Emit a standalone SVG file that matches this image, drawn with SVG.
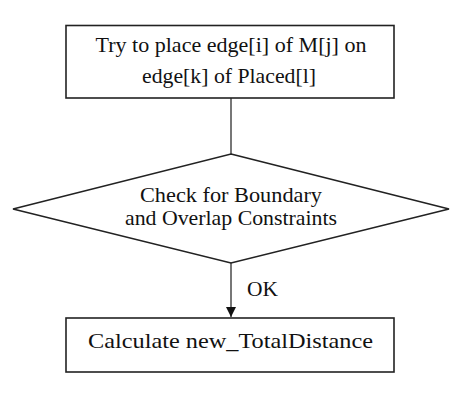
<svg xmlns="http://www.w3.org/2000/svg" width="474" height="405" viewBox="0 0 474 405">
<defs>
<style>
.box{fill:#fff;stroke:#222;stroke-width:1.6}
.conn{fill:none;stroke:#555;stroke-width:1.6}
.t{font-family:"Liberation Serif","Times New Roman",serif;font-size:21px;fill:#111;text-anchor:middle}
</style>
<marker id="arr" viewBox="0 0 10 10" refX="10" refY="5" markerWidth="10" markerHeight="10" markerUnits="userSpaceOnUse" orient="auto">
<path d="M0,0 L10,5 L0,10 Z" fill="#111"/>
</marker>
</defs>
<rect width="474" height="405" fill="#fff"/>
<g id="connectors">
<line class="conn" x1="231" y1="98" x2="231" y2="154"/>
<line class="conn" x1="231" y1="263" x2="231" y2="317" marker-end="url(#arr)"/>
<text class="t" x="247" y="296" style="text-anchor:start" textLength="31" lengthAdjust="spacingAndGlyphs">OK</text>
</g>
<g id="node-place">
<rect class="box" x="66" y="25.5" width="328" height="72.5"/>
<text class="t" x="231" y="52" textLength="271" lengthAdjust="spacingAndGlyphs">Try to place edge[i] of M[j] on</text>
<text class="t" x="229" y="83" textLength="174" lengthAdjust="spacingAndGlyphs">edge[k] of Placed[l]</text>
</g>
<g id="node-check">
<polygon class="box" points="231,154 449,209 231,263 13,209"/>
<text class="t" x="231" y="202" textLength="182" lengthAdjust="spacingAndGlyphs">Check for Boundary</text>
<text class="t" x="231" y="225" textLength="212" lengthAdjust="spacingAndGlyphs">and Overlap Constraints</text>
</g>
<g id="node-calc">
<rect class="box" x="66" y="318" width="328" height="54"/>
<text class="t" x="230.5" y="348" textLength="285" lengthAdjust="spacingAndGlyphs">Calculate new_TotalDistance</text>
</g>
</svg>
